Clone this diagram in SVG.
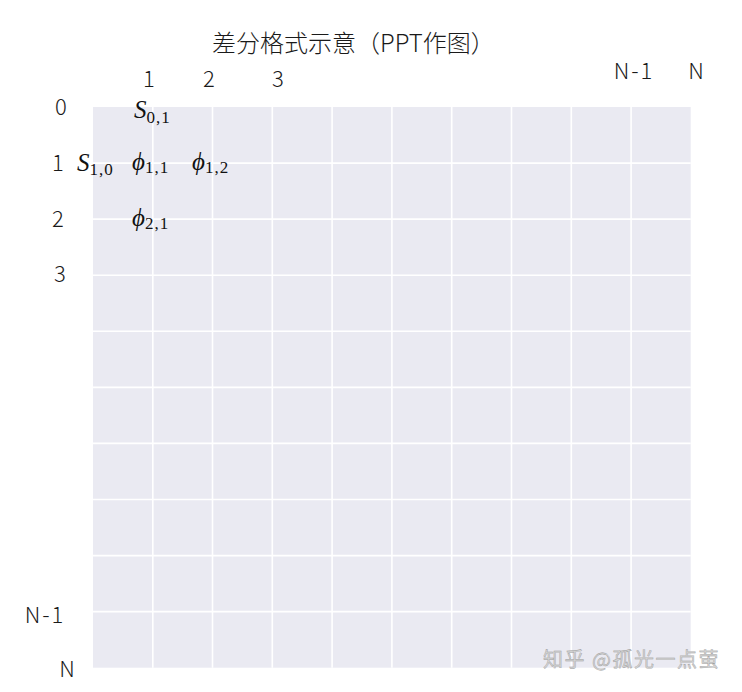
<svg xmlns="http://www.w3.org/2000/svg" width="742" height="692" viewBox="0 0 742 692">
<style>
.ax{font-family:"Noto Sans CJK SC","Noto Sans",sans-serif;font-size:22px;fill:#1a1a1a;font-weight:300}
.tt{font-family:"Noto Sans CJK SC","Noto Sans",sans-serif;font-size:24px;fill:#1a1a1a;font-weight:300}
.m{font-family:"Liberation Serif","DejaVu Serif",serif;font-size:25px;font-style:italic;fill:#111}
.sb{font-style:normal;font-size:17px;letter-spacing:1px}
.gl{stroke:#ffffff;stroke-width:1.6;fill:none}
.wm{font-family:"Noto Sans CJK SC",sans-serif;font-size:20px;letter-spacing:1.5px;fill:#d6d6d6;stroke:#9a9a9a;stroke-width:0.4}
</style>
<rect width="742" height="692" fill="#ffffff"/>
<g id="grid">
<rect x="93" y="107" width="597.7" height="560.7" fill="#eaeaf2"/>
<path class="gl" d="M152.8 107V667.7M212.5 107V667.7M272.3 107V667.7M332.1 107V667.7M391.9 107V667.7M451.7 107V667.7M511.5 107V667.7M571.3 107V667.7M631.1 107V667.7M93 163.1H690.7M93 219.1H690.7M93 275.2H690.7M93 331.3H690.7M93 387.4H690.7M93 443.4H690.7M93 499.5H690.7M93 555.6H690.7M93 611.6H690.7"/>
</g>
<text class="tt" x="212" y="52">差分格式示意（PPT作图）</text>
<g id="top-labels">
<text class="ax" x="149" y="87" text-anchor="middle" font-size="21">1</text>
<text class="ax" x="209" y="87" text-anchor="middle" font-size="21">2</text>
<text class="ax" x="278" y="87" text-anchor="middle" font-size="21">3</text>
<text class="ax" x="634" y="79" text-anchor="middle" letter-spacing="2">N-1</text>
<text class="ax" x="696" y="79" text-anchor="middle">N</text>
</g>
<g id="left-labels">
<text class="ax" x="61" y="115" text-anchor="middle">0</text>
<text class="ax" x="58" y="171" text-anchor="middle">1</text>
<text class="ax" x="58" y="227" text-anchor="middle">2</text>
<text class="ax" x="60" y="282" text-anchor="middle">3</text>
<text class="ax" x="45" y="623" text-anchor="middle" letter-spacing="2">N-1</text>
<text class="ax" x="67" y="677" text-anchor="middle">N</text>
</g>
<g id="s01"><text class="m" x="134" y="118">S<tspan class="sb" dy="5">0,1</tspan></text></g>
<g id="s10"><text class="m" x="77" y="171">S<tspan class="sb" dy="4">1,0</tspan></text></g>
<g id="phi11"><text class="m" x="132" y="170">ϕ<tspan class="sb" dy="3">1,1</tspan></text></g>
<g id="phi12"><text class="m" x="192" y="170">ϕ<tspan class="sb" dy="3">1,2</tspan></text></g>
<g id="phi21"><text class="m" x="132" y="226">ϕ<tspan class="sb" dy="3">2,1</tspan></text></g>
<text class="wm" x="543" y="667">知乎 @孤光一点萤</text>
</svg>
